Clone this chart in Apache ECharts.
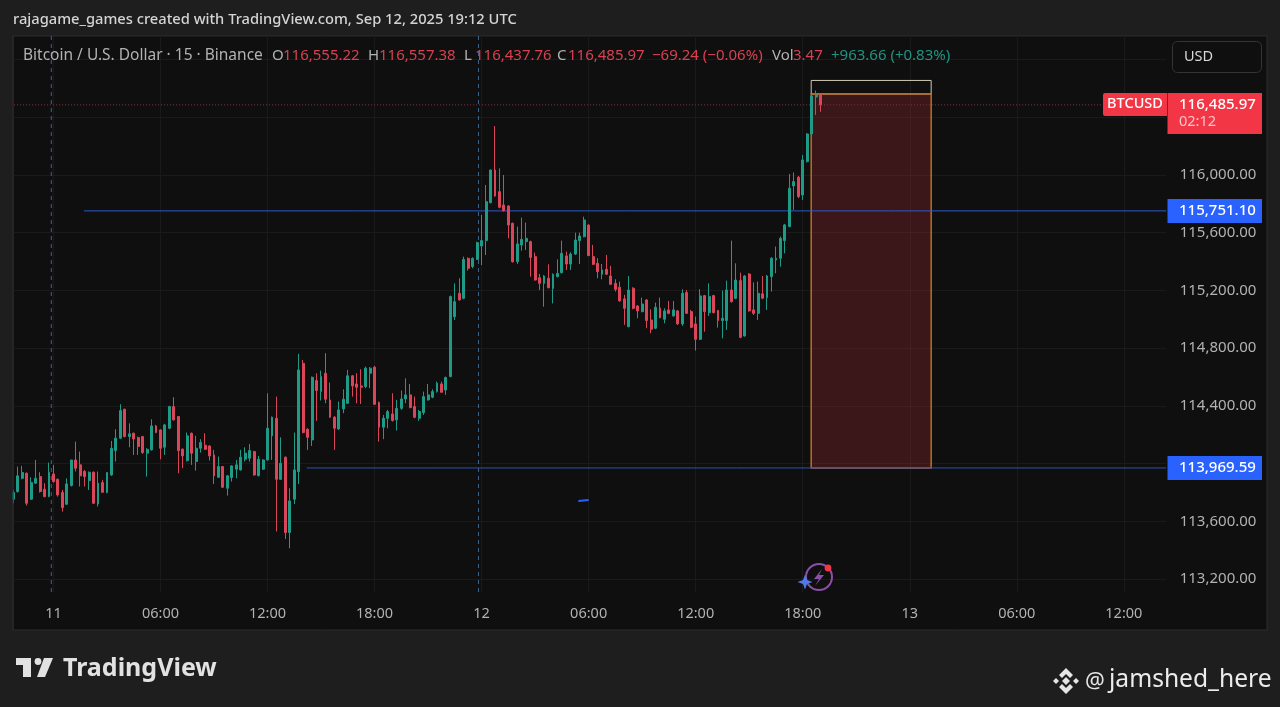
<!DOCTYPE html>
<html><head><meta charset="utf-8">
<style>html,body{margin:0;padding:0;background:#1e1e1e}#c{width:1280px;height:707px}</style>
<script src="https://cdn.jsdelivr.net/npm/echarts@6/dist/echarts.min.js"></script>
</head><body><div id="c"></div>
<script>
const opens=[113753,113806,113898,113933,113753,113864,113910,113822,113771,113928,
113891,113799,113718,113848,114025,113991,113945,113882,113940,113720,
113868,113799,113921,114090,114176,114377,114187,114210,114180,114187,
114072,114095,114261,114233,114113,114245,114395,114326,114099,114021,
114210,114014,114106,114127,114122,114060,113905,113979,113829,113903,
113961,113956,114030,114037,114083,113917,113961,114025,114192,114314,
113891,114044,113522,113753,113945,114695,114238,114164,114575,114499,
114626,114441,114321,114240,114379,114418,114608,114552,114538,114534,
114626,114668,114423,114252,114314,114344,114303,114383,114448,114476,
114395,114314,114353,114441,114460,114499,114552,114510,114603,115018,
115180,115145,115422,115365,115415,115508,115545,115808,116034,115884,
115792,115785,115665,115399,115515,115538,115538,115434,115288,115249,
115284,115214,115295,115323,115439,115383,115452,115545,115572,115653,
115434,115388,115312,115346,115300,115249,115222,115141,114949,115215,
115092,115053,115134,114995,114938,115078,115000,115065,115023,115058,
114968,115185,115053,114968,114861,115164,115046,115164,115060,114991,
114991,115203,115145,115268,114884,115314,115065,115041,115176,115150,
115296,115411,115423,115545,115642,115924,115984,115862,116093,116284,
116540,116555.22];
const closes=[113799,113915,113938,113725,113868,113898,113806,113771,113940,113875,
113783,113695,113859,114025,113968,113915,113910,113940,113725,113864,
113801,113938,114106,114176,114367,114187,114206,114171,114118,114076,
114099,114261,114215,114106,114268,114395,114303,114090,114053,114192,
114072,114106,114146,114099,114053,113915,113979,113836,113915,113984,
113991,114044,114072,114090,113921,114030,114025,114245,114321,113891,
114002,113522,113741,113956,114649,114215,114182,114598,114506,114603,
114446,114321,114245,114372,114446,114608,114538,114529,114529,114661,
114661,114411,114252,114314,114360,114298,114383,114448,114476,114388,
114321,114360,114464,114476,114499,114557,114494,114596,115157,115122,
115134,115415,115353,115422,115531,115545,115815,116034,115854,115776,
115753,115653,115399,115522,115554,115561,115429,115272,115249,115300,
115219,115311,115318,115457,115383,115452,115549,115577,115688,115441,
115381,115330,115342,115312,115242,115208,115127,115076,115203,115076,
115058,115106,114991,114931,115083,115011,115058,115041,115065,114968,
115180,115041,114944,114861,115162,115053,115157,115046,114991,115007,
115203,115122,115272,114875,115300,115058,115041,115180,115146,115300,
115423,115423,115561,115654,115908,115954,115850,116104,116284,116548,
116555,116485.97];
const lows=[113725,113799,113891,113709,113748,113859,113799,113767,113767,113868,
113771,113667,113714,113841,113945,113841,113841,113817,113720,113702,
113799,113794,113915,114014,114169,114182,114113,114060,114060,114067,
113910,114090,114210,114030,114060,114238,114298,113933,113968,114014,
113991,113951,114076,114095,114021,113859,113901,113831,113778,113875,
113898,113951,114014,114014,113917,113910,113956,114021,114025,113529,
113887,113478,113413,113720,113859,114210,114095,114122,114296,114437,
114418,114316,114095,114233,114349,114413,114464,114418,114413,114522,
114522,114407,114152,114169,114245,114291,114229,114372,114418,114383,
114314,114296,114337,114437,114453,114492,114492,114476,114598,114995,
115129,115138,115337,115353,115411,115376,115445,115803,115850,115769,
115746,115561,115392,115383,115475,115480,115295,115268,115203,115087,
115214,115110,115291,115318,115341,115341,115445,115383,115568,115439,
115376,115284,115277,115307,115238,115192,115122,114961,114944,115069,
115007,115048,114938,114903,114931,115007,114972,115035,115018,114961,
114954,115037,114938,114783,114857,114914,115023,115041,114942,114868,
114926,115115,115139,114868,114880,115053,115030,114995,115139,115065,
115192,115319,115365,115457,115638,115758,115839,115827,116086,116278,
116416,116437.76];
const highs=[113817,113979,113984,113938,113905,114025,113940,113864,114007,113991,
113896,113817,113898,114025,114152,114083,113956,113945,113945,113945,
113887,113938,114157,114238,114411,114379,114279,114215,114187,114192,
114106,114307,114268,114238,114275,114400,114460,114330,114106,114215,
114215,114192,114169,114210,114127,114095,114049,113984,113921,113988,
114025,114095,114113,114136,114088,114053,114030,114487,114326,114464,
114182,114049,113829,114215,114760,114718,114245,114603,114626,114644,
114765,114561,114330,114430,114515,114649,114614,114626,114654,114672,
114668,114677,114430,114337,114372,114487,114441,114506,114591,114552,
114464,114372,114499,114552,114515,114568,114568,114603,115165,115249,
115284,115434,115429,115429,115538,115723,115931,116039,116339,116046,
116000,115790,115670,115642,115704,115670,115545,115462,115314,115307,
115381,115318,115415,115545,115469,115464,115600,115600,115711,115658,
115515,115423,115383,115446,115370,115277,115261,115169,115300,115222,
115099,115150,115139,115069,115115,115150,115076,115127,115127,115065,
115208,115203,115065,115018,115208,115169,115249,115169,115065,115199,
115268,115545,115388,115323,115307,115319,115256,115261,115300,115307,
115430,115504,115573,115661,116007,116017,115993,116139,116289,116555,
116585,116557.38];

const SLOTS=259;
const categories=Array.from({length:SLOTS},(_,i)=>'bar'+i);
const xTickSlots=[9,33,57,81,105,129,153,177,201,225,249];
const xTickLabels=['11','06:00','12:00','18:00','12','06:00','12:00','18:00','13','06:00','12:00'];
const yTicks=[113200,113600,114000,114400,114800,115200,115600,116000,116400,116800];
const Y_MIN=113110,Y_MAX=116963,X_MIN=-0.5,X_MAX=258.5;

const lastPrice=116485.97, upperLevel=115751.10, lowerLevel=113969.59;
const upperStart=15.85, lowerStart=65.8;
const crossSlots=[8.52,104.3];
const boxLeft=178.9, boxRight=205.8, boxEntry=116561, boxTop=116655;
const strayX=[126.7,129], strayY=[113741,113747];
const tagPrices=[upperLevel,lowerLevel,lastPrice];
const tagTexts=['115,751.10','113,969.59','116,485.97'];
const tagColors=['#2962ff','#2962ff','#f23645'];

const candleData=opens.map((o,i)=>[o,closes[i],lows[i],highs[i]]);
const FONT='"Noto Sans",sans-serif';
const txt=(text,x,y,fill,size,weight,extra)=>({type:'text',z:60,silent:true,x,y,style:Object.assign({text,fill,font:(weight||'normal')+' '+size+'px '+FONT,textVerticalAlign:'middle'},extra||{})});
const poly=(pts,fill)=>({type:'polygon',z:60,silent:true,shape:{points:pts},style:{fill}});
const LC='#b2b2b2',RED='#d8414f',GRN='#1f9480';

function hline(name,x0,x1,p,color,type){return {type:'line',name,xAxisIndex:1,yAxisIndex:0,data:[[x0,p],[x1,p]],symbol:'none',silent:true,animation:false,z:2,lineStyle:{color,width:1,type}};}
function vline(name,x,color){return {type:'line',name,xAxisIndex:1,yAxisIndex:0,data:[[x,Y_MIN],[x,Y_MAX]],symbol:'none',silent:true,animation:false,z:2,lineStyle:{color,width:1,type:[4,4]}};}

const chart=echarts.init(document.getElementById('c'),null,{renderer:'canvas',width:1280,height:707});
chart.setOption({
 animation:false,
 backgroundColor:'#1e1e1e',
 grid:{left:11.07,width:1155.14,top:36,height:556,containLabel:false},
 xAxis:[
  {type:'category',data:categories,boundaryGap:true,show:false},
  {type:'value',min:X_MIN,max:X_MAX,position:'bottom',
   axisLine:{show:false},
   axisTick:{show:false,customValues:xTickSlots},
   splitLine:{show:true,lineStyle:{color:'#1a1a1a',width:1}},
   axisLabel:{show:true,customValues:xTickSlots,margin:14,color:LC,fontSize:14.5,fontFamily:FONT,hideOverlap:false,showMinLabel:true,showMaxLabel:true,
     formatter:v=>xTickLabels[xTickSlots.indexOf(v)]||''}}
 ],
 yAxis:[{type:'value',min:Y_MIN,max:Y_MAX,position:'right',scale:true,
   axisLine:{show:false},
   axisTick:{show:false,customValues:yTicks},
   splitLine:{show:true,lineStyle:{color:'#1a1a1a',width:1}},
   axisLabel:{show:true,customValues:yTicks,margin:13.5,color:LC,fontSize:15,fontFamily:FONT,align:'left',
     formatter:v=>v.toLocaleString('en-US',{minimumFractionDigits:2,maximumFractionDigits:2})}}],
 series:[
  {type:'custom',name:'box',xAxisIndex:1,yAxisIndex:0,z:1,silent:true,animation:false,clip:false,
   data:[[boxLeft,boxTop,boxRight,boxEntry],[boxLeft,boxEntry,boxRight,lowerLevel]],
   renderItem(params,api){
     const a=api.coord([api.value(0),api.value(1)]),b=api.coord([api.value(2),api.value(3)]);
     const risk=params.dataIndex===1;
     return {type:'rect',z2:risk?2:1,shape:{x:a[0],y:a[1],width:b[0]-a[0],height:b[1]-a[1]},
       style:risk?{fill:'rgba(242,54,69,0.2)',stroke:'#b5702c',lineWidth:1.5}:{fill:'none',stroke:'#cfc9b4',lineWidth:1}};
   }},
  hline('lastLine',X_MIN,X_MAX,lastPrice,'#8a2f3a',[1,2]),
  hline('upper',upperStart,X_MAX,upperLevel,'#2f58c8','solid'),
  hline('lower',lowerStart,X_MAX,lowerLevel,'#2c50b8','solid'),
  vline('cross0',crossSlots[0],'#3f6290'),
  vline('cross1',crossSlots[1],'#3f6290'),
  {type:'line',name:'stray',xAxisIndex:1,yAxisIndex:0,data:strayX.map((x,i)=>[x,strayY[i]]),symbol:'none',silent:true,z:3,lineStyle:{color:'#2962ff',width:2}},
  {type:'candlestick',name:'BTCUSD',xAxisIndex:0,yAxisIndex:0,z:4,silent:true,barWidth:2.4,data:candleData,
   itemStyle:{color:'#1f9a86',color0:'#d9465a',borderColor:'#1f9a86',borderColor0:'#d9465a',borderWidth:1}},
  {type:'custom',name:'tags',xAxisIndex:1,yAxisIndex:0,z:20,silent:true,animation:false,
   data:tagPrices.map(p=>[X_MAX,p]),
   renderItem(params,api){
     const i=params.dataIndex,y=Math.round(api.coord([api.value(0),api.value(1)])[1]);
     const kids=[];
     const isLast=i===2;
     kids.push({type:'rect',shape:{x:1167.5,y:y-12,width:94.5,height:isLast?41:24},style:{fill:tagColors[i]}});
     kids.push({type:'text',x:1179,y:y,style:{text:tagTexts[i],fill:'#fff',font:'500 15px '+FONT,textVerticalAlign:'middle'}});
     if(isLast){
       kids.push({type:'text',x:1179,y:y+17,style:{text:'02:12',fill:'#f7c6cb',font:'14.5px '+FONT,textVerticalAlign:'middle'}});
       kids.push({type:'rect',shape:{x:1103,y:y-12,width:64,height:23,r:[2,0,0,2]},style:{fill:'#f23645'}});
       kids.push({type:'text',x:1135,y:y-1,style:{text:'BTCUSD',fill:'#fff',font:'500 14.5px '+FONT,textAlign:'center',textVerticalAlign:'middle'}});
     }
     return {type:'group',children:kids};
   }}
 ],
 graphic:{elements:[
  {type:'rect',z:-5,silent:true,shape:{x:13,y:36,width:1254,height:594},style:{fill:'#0f0f0f',stroke:'#2c2c2c',lineWidth:1}},
  {type:'rect',z:50,silent:true,shape:{x:0,y:36,width:12.5,height:594},style:{fill:'#1e1e1e'}},
  {type:'line',z:51,silent:true,shape:{x1:13,y1:36,x2:13,y2:630},style:{stroke:'#2c2c2c',lineWidth:1}},
  txt('rajagame_games created with TradingView.com, Sep 12, 2025 19:12 UTC',13,20,'#d4d4d4',14.7,'500'),
  txt('Bitcoin / U.S. Dollar · 15 · Binance',23,55.5,LC,15.5),
  txt('O',272,55.5,LC,15),txt('116,555.22',283,55.5,RED,15),
  txt('H',368,55.5,LC,15),txt('116,557.38',379,55.5,RED,15),
  txt('L',464,55.5,LC,15),txt('116,437.76',475,55.5,RED,15),
  txt('C',557,55.5,LC,15),txt('116,485.97',568,55.5,RED,15),
  txt('−69.24 (−0.06%)',652,55.5,RED,15),
  txt('Vol',772,55.5,LC,15),txt('3.47',793,55.5,RED,15),
  txt('+963.66 (+0.83%)',831,55.5,GRN,15),
  {type:'rect',z:40,silent:true,shape:{x:1172.5,y:41.5,width:89,height:31,r:5},style:{fill:'#0f0f0f',stroke:'#343434',lineWidth:1}},
  txt('USD',1184,57,'#d8d8d8',14.5),
  poly([[16,658],[31,658],[31,677],[23,677],[23,665],[16,665]],'#e2e2e2'),
  {type:'circle',z:60,silent:true,shape:{cx:38,cy:661.5,r:3.4},style:{fill:'#e2e2e2'}},
  poly([[44,658],[53,658],[45,677],[37,677]],'#e2e2e2'),
  txt('TradingView',63,668.5,'#e2e2e2',25,'700'),
  poly([[1066,677],[1070,681],[1066,685],[1062,681]],'#e6e6e6'),
  poly([[1056,678],[1059,681],[1056,684],[1053,681]],'#e6e6e6'),
  poly([[1076,678],[1079,681],[1076,684],[1073,681]],'#e6e6e6'),
  poly([[1066,668],[1073,675],[1070,678],[1066,674],[1062,678],[1059,675]],'#e6e6e6'),
  poly([[1066,694],[1073,687],[1070,684],[1066,688],[1062,684],[1059,687]],'#e6e6e6'),
  txt('@',1085,682,'#e6e6e6',22),
  txt('jamshed_here',1109,680,'#ececec',24.6),
  {type:'circle',z:60,silent:true,shape:{cx:819,cy:577,r:13},style:{fill:'none',stroke:'#8a4fa6',lineWidth:2}},
  poly([[822,569],[814,579],[819,579],[815,586],[824,575],[819,575]],'#8a4fa6'),
  {type:'circle',z:61,silent:true,shape:{cx:828,cy:568,r:3.4},style:{fill:'#f23645'}},
  poly([[805,574.5],[807,580],[812.5,582],[807,584],[805,589.5],[803,584],[797.5,582],[803,580]],'#4f7ae8')
 ]}
});
</script></body></html>
